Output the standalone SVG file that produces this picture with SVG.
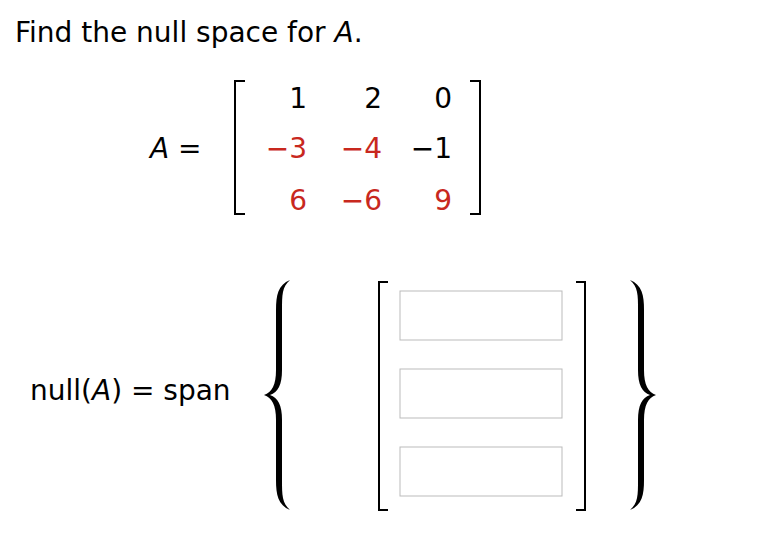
<svg xmlns="http://www.w3.org/2000/svg" width="772" height="560" viewBox="0 0 772 560">
<style>
text{font-family:"DejaVu Sans",Verdana,sans-serif;font-size:28px;fill:#000}
.r{fill:#c8281e}
.e{text-anchor:end}
.b{fill:none;stroke:#000;stroke-width:2}
.bx{fill:#fff;stroke:#bbb;stroke-width:1}
</style>
<rect width="772" height="560" fill="#fff"/>
<text x="15" y="42">Find the null space for <tspan font-style="italic">A</tspan>.</text>
<text x="150" y="158"><tspan font-style="italic">A</tspan> =</text>
<path class="b" d="M245,81 H235 V214 H245"/>
<path class="b" d="M470,81 H480 V214 H470"/>
<text class="e" x="307" y="108">1</text>
<text class="e" x="382" y="108">2</text>
<text class="e" x="452" y="108">0</text>
<text class="e r" x="307" y="158">−3</text>
<text class="e r" x="382" y="158">−4</text>
<text class="e" x="452" y="158">−1</text>
<text class="e r" x="307" y="210">6</text>
<text class="e r" x="382" y="210">−6</text>
<text class="e r" x="452" y="210">9</text>
<text x="30" y="400">null(<tspan font-style="italic">A</tspan>) = span</text>
<path d="M290,280 C278,285 276,295 276,310 V370 C276,385 272,392 264,395 C272,398 276,405 276,420 V480 C276,495 278,505 290,510 C282,503 282,495 282,480 V420 C282,405 278,398 270,395 C278,392 282,385 282,370 V310 C282,295 282,287 290,280 Z" fill="#000"/>
<path d="M630,280 C642,285 644,295 644,310 V370 C644,385 648,392 656,395 C648,398 644,405 644,420 V480 C644,495 642,505 630,510 C638,503 638,495 638,480 V420 C638,405 642,398 650,395 C642,392 638,385 638,370 V310 C638,295 638,287 630,280 Z" fill="#000"/>
<path class="b" d="M388,282 H379 V510 H388"/>
<path class="b" d="M576,282 H585 V510 H576"/>
<rect class="bx" x="400" y="291" width="162" height="49"/>
<rect class="bx" x="400" y="369" width="162" height="49"/>
<rect class="bx" x="400" y="447" width="162" height="49"/>
</svg>
